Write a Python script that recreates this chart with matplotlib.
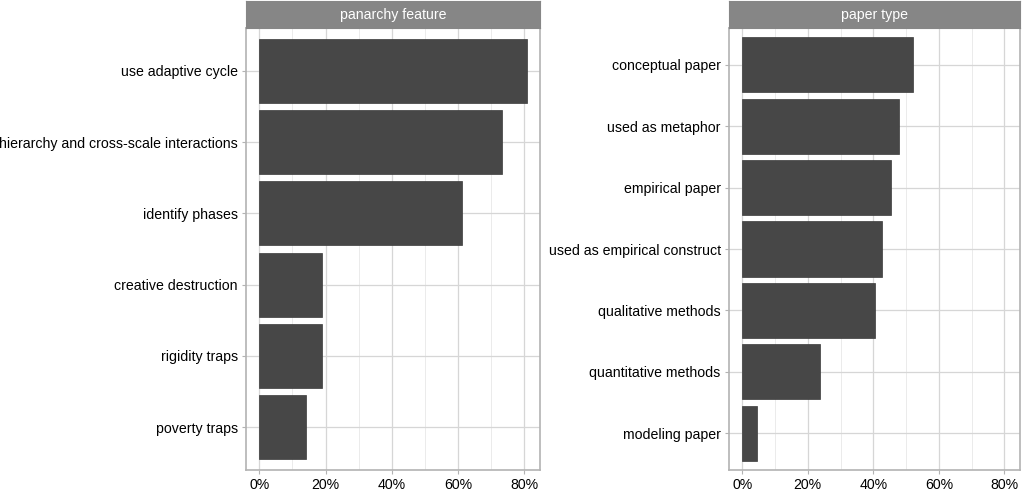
import numpy as np
import matplotlib
matplotlib.use("Agg")
import matplotlib.pyplot as plt
from matplotlib.ticker import MultipleLocator, FuncFormatter

plt.rcParams['font.family'] = ['Liberation Sans', 'DejaVu Sans']

# panel 1: panarchy feature (top to bottom)
feature_labels = ["use adaptive cycle", "hierarchy and cross-scale interactions",
                  "identify phases", "creative destruction", "rigidity traps",
                  "poverty traps"]
feature_share = [0.807, 0.734, 0.613, 0.190, 0.190, 0.141]

# panel 2: paper type (top to bottom)
type_labels = ["conceptual paper", "used as metaphor", "empirical paper",
               "used as empirical construct", "qualitative methods",
               "quantitative methods", "modeling paper"]
type_share = [0.522, 0.477, 0.453, 0.426, 0.405, 0.238, 0.045]

panels = [("panarchy feature", feature_labels, feature_share),
          ("paper type", type_labels, type_share)]

W, H = 1024, 490
fig = plt.figure(figsize=(W / 100, H / 100), dpi=100)

# pixel boxes (left, right) of each panel
boxes = [(246, 540), (729, 1020)]
top_px, strip_px, bottom_px = 1, 28, 470

xmax = max(max(feature_share), max(type_share))
xlim = (-0.05 * xmax, 1.05 * xmax)

for (title, labels, vals), (x0, x1) in zip(panels, boxes):
    ax = fig.add_axes([x0 / W, 1 - bottom_px / H, (x1 - x0) / W,
                       (bottom_px - strip_px) / H])
    n = len(labels)
    ypos = np.arange(n)[::-1] + 1
    ax.barh(ypos, vals, height=0.9, color="#474747", edgecolor="#3a3a3a",
            linewidth=0.5, zorder=3)
    ax.set_xlim(*xlim)
    ax.set_ylim(0.4, n + 0.6)
    ax.set_yticks(ypos)
    ax.set_yticklabels(labels)
    ax.xaxis.set_major_locator(MultipleLocator(0.2))
    ax.xaxis.set_minor_locator(MultipleLocator(0.1))
    ax.xaxis.set_major_formatter(FuncFormatter(lambda v, p: f"{v * 100:.0f}%"))
    ax.grid(which="major", color="#d6d6d6", linewidth=0.9, zorder=0)
    ax.grid(which="minor", axis="x", color="#e8e8e8", linewidth=0.6, zorder=0)
    for s in ax.spines.values():
        s.set_color("#b3b3b3")
        s.set_linewidth(1.2)
    ax.tick_params(axis="both", which="major", length=3, color="#b3b3b3",
                   labelsize=10.2, labelcolor="black", pad=3)
    ax.tick_params(axis="x", which="minor", length=0)

    # strip on top
    sax = fig.add_axes([x0 / W, 1 - strip_px / H, (x1 - x0) / W,
                        (strip_px - top_px) / H])
    sax.set_facecolor("#868686")
    sax.set_xticks([])
    sax.set_yticks([])
    for s in sax.spines.values():
        s.set_color("#868686")
    sax.text(0.5, 0.48, title, color="white", fontsize=10.2,
             ha="center", va="center", transform=sax.transAxes)

fig.savefig("out.png", dpi=100)
